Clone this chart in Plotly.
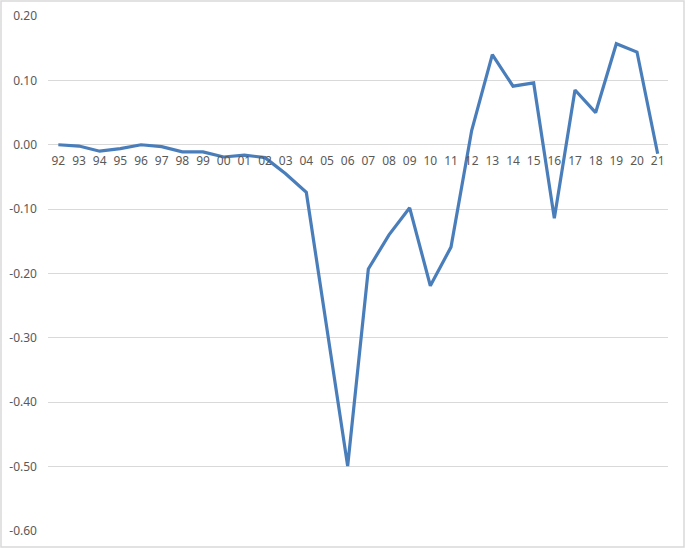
import plotly.graph_objects as go

years = ["92", "93", "94", "95", "96", "97", "98", "99", "00", "01",
         "02", "03", "04", "05", "06", "07", "08", "09", "10", "11",
         "12", "13", "14", "15", "16", "17", "18", "19", "20", "21"]
values = [0.000, -0.002, -0.010, -0.006, 0.000, -0.003, -0.011, -0.011, -0.019, -0.016,
          -0.020, -0.045, -0.074, -0.290, -0.499, -0.193, -0.140, -0.098, -0.219, -0.159,
          0.022, 0.140, 0.091, 0.096, -0.114, 0.085, 0.050, 0.157, 0.144, -0.014]
y_ticks = [0.20, 0.10, 0.00, -0.10, -0.20, -0.30, -0.40, -0.50, -0.60]

W, H = 685, 548
ml, mr, mt, mb = 48, 17, 16, 17

fig = go.Figure()
fig.add_trace(go.Scatter(x=years, y=values, mode="lines",
                         line=dict(color="#4a7ebb", width=3.2)))

fig.update_layout(
    width=W, height=H,
    margin=dict(l=ml, r=mr, t=mt, b=mb, autoexpand=False),
    plot_bgcolor="white", paper_bgcolor="white",
    showlegend=False,
    font=dict(family="Noto Sans", size=12, color="#595959"),
    xaxis=dict(type="category", range=[-0.5, len(years) - 0.5],
               showgrid=False, zeroline=False, showline=False,
               anchor="free", position=0.75,
               ticks="outside", ticklen=5, tickcolor="rgba(0,0,0,0)"),
    yaxis=dict(range=[-0.6, 0.2], tickvals=y_ticks,
               ticktext=[f"{v:.2f}" for v in y_ticks],
               showgrid=True, gridcolor="#d9d9d9", gridwidth=1,
               zeroline=False, showline=False, ticks="", ticklabelstandoff=10),
)

# light border around the whole chart
pw, ph = W - ml - mr, H - mt - mb
fig.add_shape(type="rect", xref="paper", yref="paper",
              x0=-(ml - 1) / pw, x1=1 + (mr - 1) / pw,
              y0=-(mb - 1) / ph, y1=1 + (mt - 1) / ph,
              line=dict(color="#d9d9d9", width=1.5), layer="below")

fig.write_html("out.html", config={"displayModeBar": False},
               post_script="document.body.style.margin='0';document.body.style.overflow='hidden';")
